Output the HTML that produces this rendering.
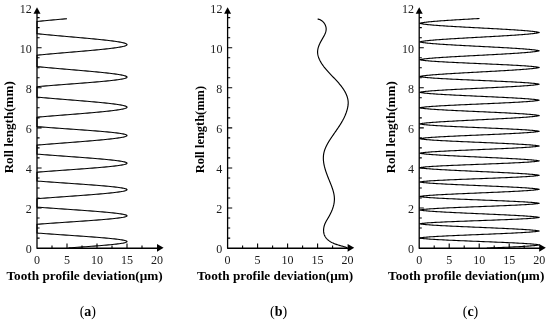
<!DOCTYPE html>
<html><head><meta charset="utf-8"><title>Figure</title>
<style>
html,body{margin:0;padding:0;background:#fff;}
svg{display:block}
.t{font-family:"Liberation Serif",serif;font-size:13.4px;fill:#1a1a1a}
.b{font-family:"Liberation Serif",serif;font-size:13.25px;font-weight:bold;fill:#000}
.c{font-family:"Liberation Serif",serif;font-size:14px;fill:#000}
.c tspan{font-weight:bold}
</style></head><body>
<svg width="550" height="324" viewBox="0 0 550 324">
<rect width="550" height="324" fill="#fff"/>
<path d="M37,13 V248.25 H158" fill="none" stroke="#000" stroke-width="1.3" stroke-linejoin="round"/>
<path d="M37,7.3 l3.5,6.4 h-7 z" fill="#000"/>
<path d="M163.6,247.85 l-6.6,-3.8 v7.6 z" fill="#000"/>
<path d="M37,238.08h2.6M37,228.06h2.6M37,218.04h2.6M37,208.02h4.6M37,198.00h2.6M37,187.98h2.6M37,177.96h2.6M37,167.94h4.6M37,157.92h2.6M37,147.90h2.6M37,137.88h2.6M37,127.86h4.6M37,117.84h2.6M37,107.82h2.6M37,97.80h2.6M37,87.78h4.6M37,77.76h2.6M37,67.74h2.6M37,57.72h2.6M37,47.70h4.6M37,37.68h2.6M37,27.66h2.6M37,17.64h2.6M52,248.1v-2.6M67,248.1v-4.6M82,248.1v-2.6M97,248.1v-4.6M112,248.1v-2.6M127,248.1v-4.6M142,248.1v-2.6" fill="none" stroke="#000" stroke-width="1.1"/>
<text class="t" transform="translate(31.8,253.2) scale(0.9,1)" text-anchor="end">0</text>
<text class="t" transform="translate(31.8,213.1) scale(0.9,1)" text-anchor="end">2</text>
<text class="t" transform="translate(31.8,173.0) scale(0.9,1)" text-anchor="end">4</text>
<text class="t" transform="translate(31.8,133.0) scale(0.9,1)" text-anchor="end">6</text>
<text class="t" transform="translate(31.8,92.9) scale(0.9,1)" text-anchor="end">8</text>
<text class="t" transform="translate(31.8,52.8) scale(0.9,1)" text-anchor="end">10</text>
<text class="t" transform="translate(31.8,12.7) scale(0.9,1)" text-anchor="end">12</text>
<text class="t" transform="translate(37.0,264.4) scale(0.9,1)" text-anchor="middle">0</text>
<text class="t" transform="translate(67.0,264.4) scale(0.9,1)" text-anchor="middle">5</text>
<text class="t" transform="translate(97.0,264.4) scale(0.9,1)" text-anchor="middle">10</text>
<text class="t" transform="translate(127.0,264.4) scale(0.9,1)" text-anchor="middle">15</text>
<text class="t" transform="translate(157.0,264.4) scale(0.9,1)" text-anchor="middle">20</text>
<text class="b" x="84.6" y="279.6" text-anchor="middle">Tooth profile deviation(μm)</text>
<text class="b" transform="translate(13.1,127.3) rotate(-90) scale(0.99,1)" text-anchor="middle">Roll length(mm)</text>
<path d="M227.6,13 V248.25 H348.6" fill="none" stroke="#000" stroke-width="1.3" stroke-linejoin="round"/>
<path d="M227.6,7.3 l3.5,6.4 h-7 z" fill="#000"/>
<path d="M354.2,247.85 l-6.6,-3.8 v7.6 z" fill="#000"/>
<path d="M227.6,238.08h2.6M227.6,228.06h2.6M227.6,218.04h2.6M227.6,208.02h4.6M227.6,198.00h2.6M227.6,187.98h2.6M227.6,177.96h2.6M227.6,167.94h4.6M227.6,157.92h2.6M227.6,147.90h2.6M227.6,137.88h2.6M227.6,127.86h4.6M227.6,117.84h2.6M227.6,107.82h2.6M227.6,97.80h2.6M227.6,87.78h4.6M227.6,77.76h2.6M227.6,67.74h2.6M227.6,57.72h2.6M227.6,47.70h4.6M227.6,37.68h2.6M227.6,27.66h2.6M227.6,17.64h2.6M242.6,248.1v-2.6M257.6,248.1v-4.6M272.6,248.1v-2.6M287.6,248.1v-4.6M302.6,248.1v-2.6M317.6,248.1v-4.6M332.6,248.1v-2.6" fill="none" stroke="#000" stroke-width="1.1"/>
<text class="t" transform="translate(222.4,253.2) scale(0.9,1)" text-anchor="end">0</text>
<text class="t" transform="translate(222.4,213.1) scale(0.9,1)" text-anchor="end">2</text>
<text class="t" transform="translate(222.4,173.0) scale(0.9,1)" text-anchor="end">4</text>
<text class="t" transform="translate(222.4,133.0) scale(0.9,1)" text-anchor="end">6</text>
<text class="t" transform="translate(222.4,92.9) scale(0.9,1)" text-anchor="end">8</text>
<text class="t" transform="translate(222.4,52.8) scale(0.9,1)" text-anchor="end">10</text>
<text class="t" transform="translate(222.4,12.7) scale(0.9,1)" text-anchor="end">12</text>
<text class="t" transform="translate(227.6,264.4) scale(0.9,1)" text-anchor="middle">0</text>
<text class="t" transform="translate(257.6,264.4) scale(0.9,1)" text-anchor="middle">5</text>
<text class="t" transform="translate(287.6,264.4) scale(0.9,1)" text-anchor="middle">10</text>
<text class="t" transform="translate(317.6,264.4) scale(0.9,1)" text-anchor="middle">15</text>
<text class="t" transform="translate(347.6,264.4) scale(0.9,1)" text-anchor="middle">20</text>
<text class="b" x="275.1" y="279.6" text-anchor="middle">Tooth profile deviation(μm)</text>
<text class="b" transform="translate(203.7,129.6) rotate(-90) scale(0.94,1)" text-anchor="middle">Roll length(mm)</text>
<path d="M419.2,13 V248.25 H540.2" fill="none" stroke="#000" stroke-width="1.3" stroke-linejoin="round"/>
<path d="M419.2,7.3 l3.5,6.4 h-7 z" fill="#000"/>
<path d="M545.8,247.85 l-6.6,-3.8 v7.6 z" fill="#000"/>
<path d="M419.2,238.08h2.6M419.2,228.06h2.6M419.2,218.04h2.6M419.2,208.02h4.6M419.2,198.00h2.6M419.2,187.98h2.6M419.2,177.96h2.6M419.2,167.94h4.6M419.2,157.92h2.6M419.2,147.90h2.6M419.2,137.88h2.6M419.2,127.86h4.6M419.2,117.84h2.6M419.2,107.82h2.6M419.2,97.80h2.6M419.2,87.78h4.6M419.2,77.76h2.6M419.2,67.74h2.6M419.2,57.72h2.6M419.2,47.70h4.6M419.2,37.68h2.6M419.2,27.66h2.6M419.2,17.64h2.6M434.2,248.1v-2.6M449.2,248.1v-4.6M464.2,248.1v-2.6M479.2,248.1v-4.6M494.2,248.1v-2.6M509.2,248.1v-4.6M524.2,248.1v-2.6" fill="none" stroke="#000" stroke-width="1.1"/>
<text class="t" transform="translate(414.0,253.2) scale(0.9,1)" text-anchor="end">0</text>
<text class="t" transform="translate(414.0,213.1) scale(0.9,1)" text-anchor="end">2</text>
<text class="t" transform="translate(414.0,173.0) scale(0.9,1)" text-anchor="end">4</text>
<text class="t" transform="translate(414.0,133.0) scale(0.9,1)" text-anchor="end">6</text>
<text class="t" transform="translate(414.0,92.9) scale(0.9,1)" text-anchor="end">8</text>
<text class="t" transform="translate(414.0,52.8) scale(0.9,1)" text-anchor="end">10</text>
<text class="t" transform="translate(414.0,12.7) scale(0.9,1)" text-anchor="end">12</text>
<text class="t" transform="translate(419.2,264.4) scale(0.9,1)" text-anchor="middle">0</text>
<text class="t" transform="translate(449.2,264.4) scale(0.9,1)" text-anchor="middle">5</text>
<text class="t" transform="translate(479.2,264.4) scale(0.9,1)" text-anchor="middle">10</text>
<text class="t" transform="translate(509.2,264.4) scale(0.9,1)" text-anchor="middle">15</text>
<text class="t" transform="translate(539.2,264.4) scale(0.9,1)" text-anchor="middle">20</text>
<text class="b" x="466.2" y="279.6" text-anchor="middle">Tooth profile deviation(μm)</text>
<text class="b" transform="translate(394.6,127.3) rotate(-90) scale(0.99,1)" text-anchor="middle">Roll length(mm)</text>
<path d="M67.00,18.70 L64.72,18.90 L62.45,19.10 L60.18,19.30 L57.93,19.50 L55.69,19.70 L53.47,19.90 L51.28,20.10 L49.12,20.30 L47.00,20.50 L44.91,20.70 L42.86,20.90 L40.86,21.10 L38.90,21.30 L37.00,21.50 L37.00,21.70 L37.00,21.90 L37.00,22.10 L37.00,22.30 L37.00,22.50 L37.00,22.70 L37.00,22.90 L37.00,23.10 L37.00,23.30 L37.00,23.50 L37.00,23.70 L37.00,23.90 L37.00,24.10 L37.00,24.30 L37.00,24.50 L37.00,24.70 L37.00,24.90 L37.00,25.10 L37.00,25.30 L37.00,25.50 L37.00,25.70 L37.00,25.90 L37.00,26.10 L37.00,26.30 L37.00,26.50 L37.00,26.70 L37.00,26.90 L37.00,27.10 L37.00,27.30 L37.00,27.50 L37.00,27.70 L37.00,27.90 L37.00,28.10 L37.00,28.30 L37.00,28.50 L37.00,28.70 L37.00,28.90 L37.00,29.10 L37.00,29.30 L37.00,29.50 L37.00,29.70 L37.00,29.90 L37.00,30.10 L37.00,30.30 L37.00,30.50 L37.00,30.70 L37.00,30.90 L37.00,31.10 L37.00,31.30 L37.00,31.50 L37.00,31.70 L37.00,31.90 L37.00,32.10 L37.00,32.30 L37.00,32.50 L37.00,32.70 L37.00,32.90 L37.00,33.10 L37.00,33.30 L37.00,33.50 L37.00,33.70 L38.91,33.90 L40.86,34.10 L42.86,34.30 L44.89,34.50 L46.97,34.70 L49.07,34.90 L51.21,35.10 L53.38,35.30 L55.57,35.50 L57.78,35.70 L60.01,35.90 L62.26,36.10 L64.52,36.30 L66.79,36.50 L69.07,36.70 L71.35,36.90 L73.62,37.10 L75.90,37.30 L78.16,37.50 L80.41,37.70 L82.65,37.90 L84.87,38.10 L87.06,38.30 L89.23,38.50 L91.37,38.70 L93.47,38.90 L95.54,39.10 L97.57,39.30 L99.55,39.50 L101.49,39.70 L103.38,39.90 L105.21,40.10 L106.99,40.30 L108.70,40.50 L110.36,40.70 L111.95,40.90 L113.47,41.10 L114.92,41.30 L116.29,41.50 L117.60,41.70 L118.82,41.90 L119.97,42.10 L121.03,42.30 L122.01,42.50 L122.91,42.70 L123.72,42.90 L124.44,43.10 L125.08,43.30 L125.62,43.50 L126.08,43.70 L126.44,43.90 L126.71,44.10 L126.90,44.30 L126.99,44.50 L126.99,44.70 L126.90,44.90 L126.71,45.10 L126.44,45.30 L126.07,45.50 L125.61,45.70 L125.06,45.90 L124.41,46.10 L123.68,46.30 L122.85,46.50 L121.94,46.70 L120.94,46.90 L119.85,47.10 L118.68,47.30 L117.42,47.50 L116.08,47.70 L114.66,47.90 L113.17,48.10 L111.60,48.30 L109.96,48.50 L108.25,48.70 L106.47,48.90 L104.63,49.10 L102.73,49.30 L100.77,49.50 L98.76,49.70 L96.70,49.90 L94.59,50.10 L92.44,50.30 L90.25,50.50 L88.02,50.70 L85.76,50.90 L83.48,51.10 L81.17,51.30 L78.84,51.50 L76.50,51.70 L74.14,51.90 L71.77,52.10 L69.41,52.30 L67.04,52.50 L64.67,52.70 L62.32,52.90 L59.98,53.10 L57.65,53.30 L55.34,53.50 L53.05,53.70 L50.80,53.90 L48.57,54.10 L46.37,54.30 L44.22,54.50 L42.10,54.70 L40.02,54.90 L38.00,55.10 L37.00,55.30 L37.00,55.50 L37.00,55.70 L37.00,55.90 L37.00,56.10 L37.00,56.30 L37.00,56.50 L37.00,56.70 L37.00,56.90 L37.00,57.10 L37.00,57.30 L37.00,57.50 L37.00,57.70 L37.00,57.90 L37.00,58.10 L37.00,58.30 L37.00,58.50 L37.00,58.70 L37.00,58.90 L37.00,59.10 L37.00,59.30 L37.00,59.50 L37.00,59.70 L37.00,59.90 L37.00,60.10 L37.00,60.30 L37.00,60.50 L37.00,60.70 L37.00,60.90 L37.00,61.10 L37.00,61.30 L37.00,61.50 L37.00,61.70 L37.00,61.90 L37.00,62.10 L37.00,62.30 L37.00,62.50 L37.00,62.70 L37.00,62.90 L37.00,63.10 L37.00,63.30 L37.00,63.50 L37.00,63.70 L37.00,63.90 L37.00,64.10 L37.00,64.30 L37.00,64.50 L37.00,64.70 L37.00,64.90 L37.00,65.10 L37.00,65.30 L37.00,65.50 L37.00,65.70 L37.00,65.90 L37.00,66.10 L37.00,66.30 L37.00,66.50 L38.00,66.70 L40.03,66.90 L42.11,67.10 L44.23,67.30 L46.38,67.50 L48.57,67.70 L50.79,67.90 L53.03,68.10 L55.30,68.30 L57.59,68.50 L59.90,68.70 L62.22,68.90 L64.55,69.10 L66.89,69.30 L69.24,69.50 L71.58,69.70 L73.92,69.90 L76.26,70.10 L78.58,70.30 L80.89,70.50 L83.18,70.70 L85.45,70.90 L87.69,71.10 L89.91,71.30 L92.09,71.50 L94.24,71.70 L96.35,71.90 L98.41,72.10 L100.43,72.30 L102.39,72.50 L104.31,72.70 L106.16,72.90 L107.96,73.10 L109.69,73.30 L111.36,73.50 L112.96,73.70 L114.48,73.90 L115.93,74.10 L117.30,74.30 L118.59,74.50 L119.80,74.70 L120.92,74.90 L121.95,75.10 L122.89,75.30 L123.74,75.50 L124.49,75.70 L125.15,75.90 L125.71,76.10 L126.17,76.30 L126.53,76.50 L126.79,76.70 L126.95,76.90 L127.00,77.10 L126.95,77.30 L126.79,77.50 L126.52,77.70 L126.15,77.90 L125.67,78.10 L125.07,78.30 L124.37,78.50 L123.56,78.70 L122.64,78.90 L121.61,79.10 L120.47,79.30 L119.23,79.50 L117.89,79.70 L116.44,79.90 L114.90,80.10 L113.25,80.30 L111.52,80.50 L109.69,80.70 L107.78,80.90 L105.78,81.10 L103.71,81.30 L101.56,81.50 L99.35,81.70 L97.06,81.90 L94.72,82.10 L92.32,82.30 L89.88,82.50 L87.39,82.70 L84.86,82.90 L82.30,83.10 L79.71,83.30 L77.10,83.50 L74.47,83.70 L71.84,83.90 L69.20,84.10 L66.56,84.30 L63.93,84.50 L61.32,84.70 L58.72,84.90 L56.14,85.10 L53.60,85.30 L51.09,85.50 L48.61,85.70 L46.19,85.90 L43.81,86.10 L41.48,86.30 L39.21,86.50 L37.00,86.70 L37.00,86.90 L37.00,87.10 L37.00,87.30 L37.00,87.50 L37.00,87.70 L37.00,87.90 L37.00,88.10 L37.00,88.30 L37.00,88.50 L37.00,88.70 L37.00,88.90 L37.00,89.10 L37.00,89.30 L37.00,89.50 L37.00,89.70 L37.00,89.90 L37.00,90.10 L37.00,90.30 L37.00,90.50 L37.00,90.70 L37.00,90.90 L37.00,91.10 L37.00,91.30 L37.00,91.50 L37.00,91.70 L37.00,91.90 L37.00,92.10 L37.00,92.30 L37.00,92.50 L37.00,92.70 L37.00,92.90 L37.00,93.10 L37.00,93.30 L37.00,93.50 L37.00,93.70 L37.00,93.90 L37.00,94.10 L37.00,94.30 L37.00,94.50 L37.00,94.70 L37.00,94.90 L37.00,95.10 L37.00,95.30 L37.00,95.50 L37.00,95.70 L37.00,95.90 L37.00,96.10 L37.00,96.30 L37.00,96.50 L37.00,96.70 L37.00,96.90 L37.00,97.10 L39.15,97.30 L41.35,97.50 L43.59,97.70 L45.87,97.90 L48.20,98.10 L50.55,98.30 L52.94,98.50 L55.35,98.70 L57.78,98.90 L60.23,99.10 L62.69,99.30 L65.17,99.50 L67.64,99.70 L70.12,99.90 L72.59,100.10 L75.06,100.30 L77.51,100.50 L79.95,100.70 L82.37,100.90 L84.76,101.10 L87.12,101.30 L89.45,101.50 L91.74,101.70 L93.99,101.90 L96.19,102.10 L98.34,102.30 L100.44,102.50 L102.49,102.70 L104.47,102.90 L106.39,103.10 L108.24,103.30 L110.02,103.50 L111.72,103.70 L113.35,103.90 L114.90,104.10 L116.36,104.30 L117.74,104.50 L119.03,104.70 L120.23,104.90 L121.34,105.10 L122.35,105.30 L123.27,105.50 L124.09,105.70 L124.81,105.90 L125.43,106.10 L125.95,106.30 L126.36,106.50 L126.67,106.70 L126.88,106.90 L126.99,107.10 L126.99,107.30 L126.88,107.50 L126.68,107.70 L126.36,107.90 L125.95,108.10 L125.44,108.30 L124.82,108.50 L124.11,108.70 L123.30,108.90 L122.39,109.10 L121.38,109.30 L120.29,109.50 L119.10,109.70 L117.82,109.90 L116.45,110.10 L115.00,110.30 L113.47,110.50 L111.86,110.70 L110.17,110.90 L108.40,111.10 L106.57,111.30 L104.66,111.50 L102.69,111.70 L100.65,111.90 L98.56,112.10 L96.41,112.30 L94.21,112.50 L91.95,112.70 L89.66,112.90 L87.32,113.10 L84.94,113.30 L82.53,113.50 L80.09,113.70 L77.62,113.90 L75.14,114.10 L72.63,114.30 L70.11,114.50 L67.58,114.70 L65.05,114.90 L62.51,115.10 L59.98,115.30 L57.46,115.50 L54.95,115.70 L52.46,115.90 L49.99,116.10 L47.55,116.30 L45.14,116.50 L42.76,116.70 L40.42,116.90 L38.13,117.10 L37.00,117.30 L37.00,117.50 L37.00,117.70 L37.00,117.90 L37.00,118.10 L37.00,118.30 L37.00,118.50 L37.00,118.70 L37.00,118.90 L37.00,119.10 L37.00,119.30 L37.00,119.50 L37.00,119.70 L37.00,119.90 L37.00,120.10 L37.00,120.30 L37.00,120.50 L37.00,120.70 L37.00,120.90 L37.00,121.10 L37.00,121.30 L37.00,121.50 L37.00,121.70 L37.00,121.90 L37.00,122.10 L37.00,122.30 L37.00,122.50 L37.00,122.70 L37.00,122.90 L37.00,123.10 L37.00,123.30 L37.00,123.50 L37.00,123.70 L37.00,123.90 L37.00,124.10 L37.00,124.30 L37.00,124.50 L37.00,124.70 L37.00,124.90 L37.00,125.10 L37.00,125.30 L37.00,125.50 L37.00,125.70 L37.00,125.90 L37.00,126.10 L37.00,126.30 L37.00,126.50 L38.20,126.70 L40.65,126.90 L43.16,127.10 L45.74,127.30 L48.37,127.50 L51.05,127.70 L53.77,127.90 L56.53,128.10 L59.32,128.30 L62.14,128.50 L64.97,128.70 L67.81,128.90 L70.65,129.10 L73.49,129.30 L76.32,129.50 L79.14,129.70 L81.93,129.90 L84.68,130.10 L87.40,130.30 L90.08,130.50 L92.70,130.70 L95.26,130.90 L97.76,131.10 L100.19,131.30 L102.54,131.50 L104.80,131.70 L106.98,131.90 L109.07,132.10 L111.06,132.30 L112.94,132.50 L114.72,132.70 L116.39,132.90 L117.95,133.10 L119.38,133.30 L120.70,133.50 L121.90,133.70 L122.97,133.90 L123.92,134.10 L124.74,134.30 L125.43,134.50 L126.00,134.70 L126.44,134.90 L126.75,135.10 L126.94,135.30 L127.00,135.50 L126.94,135.70 L126.76,135.90 L126.45,136.10 L126.03,136.30 L125.50,136.50 L124.85,136.70 L124.09,136.90 L123.22,137.10 L122.25,137.30 L121.17,137.50 L119.99,137.70 L118.72,137.90 L117.35,138.10 L115.89,138.30 L114.33,138.50 L112.70,138.70 L110.98,138.90 L109.18,139.10 L107.31,139.30 L105.36,139.50 L103.35,139.70 L101.27,139.90 L99.12,140.10 L96.92,140.30 L94.67,140.50 L92.36,140.70 L90.01,140.90 L87.61,141.10 L85.17,141.30 L82.70,141.50 L80.20,141.70 L77.67,141.90 L75.11,142.10 L72.54,142.30 L69.95,142.50 L67.35,142.70 L64.75,142.90 L62.14,143.10 L59.54,143.30 L56.94,143.50 L54.35,143.70 L51.79,143.90 L49.24,144.10 L46.72,144.30 L44.23,144.50 L41.78,144.70 L39.37,144.90 L37.00,145.10 L37.00,145.30 L37.00,145.50 L37.00,145.70 L37.00,145.90 L37.00,146.10 L37.00,146.30 L37.00,146.50 L37.00,146.70 L37.00,146.90 L37.00,147.10 L37.00,147.30 L37.00,147.50 L37.00,147.70 L37.00,147.90 L37.00,148.10 L37.00,148.30 L37.00,148.50 L37.00,148.70 L37.00,148.90 L37.00,149.10 L37.00,149.30 L37.00,149.50 L37.00,149.70 L37.00,149.90 L37.00,150.10 L37.00,150.30 L37.00,150.50 L37.00,150.70 L37.00,150.90 L37.00,151.10 L37.00,151.30 L37.00,151.50 L37.00,151.70 L37.00,151.90 L37.00,152.10 L37.00,152.30 L37.00,152.50 L37.00,152.70 L37.00,152.90 L37.00,153.10 L37.00,153.30 L37.00,153.50 L37.00,153.70 L37.00,153.90 L37.00,154.10 L39.44,154.30 L41.93,154.50 L44.47,154.70 L47.06,154.90 L49.70,155.10 L52.36,155.30 L55.06,155.50 L57.78,155.70 L60.52,155.90 L63.27,156.10 L66.03,156.30 L68.79,156.50 L71.54,156.70 L74.29,156.90 L77.02,157.10 L79.72,157.30 L82.40,157.50 L85.05,157.70 L87.66,157.90 L90.22,158.10 L92.73,158.30 L95.19,158.50 L97.59,158.70 L99.93,158.90 L102.20,159.10 L104.39,159.30 L106.50,159.50 L108.54,159.70 L110.48,159.90 L112.33,160.10 L114.09,160.30 L115.75,160.50 L117.31,160.70 L118.76,160.90 L120.10,161.10 L121.33,161.30 L122.44,161.50 L123.44,161.70 L124.32,161.90 L125.07,162.10 L125.71,162.30 L126.22,162.50 L126.60,162.70 L126.86,162.90 L126.98,163.10 L126.98,163.30 L126.86,163.50 L126.60,163.70 L126.21,163.90 L125.70,164.10 L125.07,164.30 L124.30,164.50 L123.42,164.70 L122.41,164.90 L121.29,165.10 L120.05,165.30 L118.69,165.50 L117.23,165.70 L115.65,165.90 L113.97,166.10 L112.19,166.30 L110.31,166.50 L108.34,166.70 L106.28,166.90 L104.13,167.10 L101.91,167.30 L99.60,167.50 L97.23,167.70 L94.79,167.90 L92.29,168.10 L89.73,168.30 L87.12,168.50 L84.47,168.70 L81.77,168.90 L79.05,169.10 L76.30,169.30 L73.52,169.50 L70.73,169.70 L67.93,169.90 L65.13,170.10 L62.33,170.30 L59.54,170.50 L56.76,170.70 L54.00,170.90 L51.27,171.10 L48.57,171.30 L45.92,171.50 L43.30,171.70 L40.74,171.90 L38.23,172.10 L37.00,172.30 L37.00,172.50 L37.00,172.70 L37.00,172.90 L37.00,173.10 L37.00,173.30 L37.00,173.50 L37.00,173.70 L37.00,173.90 L37.00,174.10 L37.00,174.30 L37.00,174.50 L37.00,174.70 L37.00,174.90 L37.00,175.10 L37.00,175.30 L37.00,175.50 L37.00,175.70 L37.00,175.90 L37.00,176.10 L37.00,176.30 L37.00,176.50 L37.00,176.70 L37.00,176.90 L37.00,177.10 L37.00,177.30 L37.00,177.50 L37.00,177.70 L37.00,177.90 L37.00,178.10 L37.00,178.30 L37.00,178.50 L37.00,178.70 L37.00,178.90 L37.00,179.10 L37.00,179.30 L37.00,179.50 L37.00,179.70 L37.00,179.90 L37.00,180.10 L37.00,180.30 L37.00,180.50 L37.00,180.70 L37.00,180.90 L38.25,181.10 L40.81,181.30 L43.43,181.50 L46.11,181.70 L48.83,181.90 L51.61,182.10 L54.42,182.30 L57.26,182.50 L60.13,182.70 L63.01,182.90 L65.91,183.10 L68.81,183.30 L71.71,183.50 L74.60,183.70 L77.47,183.90 L80.32,184.10 L83.13,184.30 L85.91,184.50 L88.65,184.70 L91.33,184.90 L93.96,185.10 L96.52,185.30 L99.01,185.50 L101.43,185.70 L103.77,185.90 L106.02,186.10 L108.17,186.30 L110.23,186.50 L112.19,186.70 L114.04,186.90 L115.78,187.10 L117.41,187.30 L118.91,187.50 L120.30,187.70 L121.56,187.90 L122.69,188.10 L123.70,188.30 L124.57,188.50 L125.31,188.70 L125.92,188.90 L126.39,189.10 L126.73,189.30 L126.93,189.50 L127.00,189.70 L126.93,189.90 L126.73,190.10 L126.40,190.30 L125.94,190.50 L125.35,190.70 L124.64,190.90 L123.80,191.10 L122.84,191.30 L121.76,191.50 L120.56,191.70 L119.26,191.90 L117.84,192.10 L116.32,192.30 L114.69,192.50 L112.97,192.70 L111.15,192.90 L109.23,193.10 L107.23,193.30 L105.15,193.50 L102.98,193.70 L100.74,193.90 L98.42,194.10 L96.04,194.30 L93.60,194.50 L91.10,194.70 L88.55,194.90 L85.95,195.10 L83.30,195.30 L80.62,195.50 L77.90,195.70 L75.16,195.90 L72.39,196.10 L69.61,196.30 L66.82,196.50 L64.02,196.70 L61.22,196.90 L58.43,197.10 L55.64,197.30 L52.88,197.50 L50.14,197.70 L47.43,197.90 L44.75,198.10 L42.12,198.30 L39.53,198.50 L37.00,198.70 L37.00,198.90 L37.00,199.10 L37.00,199.30 L37.00,199.50 L37.00,199.70 L37.00,199.90 L37.00,200.10 L37.00,200.30 L37.00,200.50 L37.00,200.70 L37.00,200.90 L37.00,201.10 L37.00,201.30 L37.00,201.50 L37.00,201.70 L37.00,201.90 L37.00,202.10 L37.00,202.30 L37.00,202.50 L37.00,202.70 L37.00,202.90 L37.00,203.10 L37.00,203.30 L37.00,203.50 L37.00,203.70 L37.00,203.90 L37.00,204.10 L37.00,204.30 L37.00,204.50 L37.00,204.70 L37.00,204.90 L37.00,205.10 L37.00,205.30 L37.00,205.50 L37.00,205.70 L37.00,205.90 L37.00,206.10 L37.00,206.30 L37.00,206.50 L37.00,206.70 L37.00,206.90 L37.00,207.10 L39.58,207.30 L42.22,207.50 L44.91,207.70 L47.65,207.90 L50.43,208.10 L53.24,208.30 L56.09,208.50 L58.95,208.70 L61.83,208.90 L64.72,209.10 L67.60,209.30 L70.49,209.50 L73.36,209.70 L76.22,209.90 L79.05,210.10 L81.85,210.30 L84.62,210.50 L87.34,210.70 L90.02,210.90 L92.64,211.10 L95.20,211.30 L97.70,211.50 L100.13,211.70 L102.48,211.90 L104.75,212.10 L106.94,212.30 L109.03,212.50 L111.03,212.70 L112.93,212.90 L114.72,213.10 L116.41,213.30 L117.98,213.50 L119.44,213.70 L120.78,213.90 L122.00,214.10 L123.09,214.30 L124.05,214.50 L124.88,214.70 L125.58,214.90 L126.14,215.10 L126.56,215.30 L126.84,215.50 L126.98,215.70 L126.98,215.90 L126.84,216.10 L126.55,216.30 L126.13,216.50 L125.55,216.70 L124.84,216.90 L123.99,217.10 L123.00,217.30 L121.87,217.50 L120.61,217.70 L119.21,217.90 L117.69,218.10 L116.04,218.30 L114.28,218.50 L112.39,218.70 L110.39,218.90 L108.29,219.10 L106.08,219.30 L103.78,219.50 L101.39,219.70 L98.91,219.90 L96.35,220.10 L93.73,220.30 L91.03,220.50 L88.28,220.70 L85.47,220.90 L82.63,221.10 L79.74,221.30 L76.83,221.50 L73.89,221.70 L70.93,221.90 L67.97,222.10 L65.01,222.30 L62.06,222.50 L59.12,222.70 L56.21,222.90 L53.32,223.10 L50.47,223.30 L47.66,223.50 L44.91,223.70 L42.20,223.90 L39.57,224.10 L37.00,224.30 L37.00,224.50 L37.00,224.70 L37.00,224.90 L37.00,225.10 L37.00,225.30 L37.00,225.50 L37.00,225.70 L37.00,225.90 L37.00,226.10 L37.00,226.30 L37.00,226.50 L37.00,226.70 L37.00,226.90 L37.00,227.10 L37.00,227.30 L37.00,227.50 L37.00,227.70 L37.00,227.90 L37.00,228.10 L37.00,228.30 L37.00,228.50 L37.00,228.70 L37.00,228.90 L37.00,229.10 L37.00,229.30 L37.00,229.50 L37.00,229.70 L37.00,229.90 L37.00,230.10 L37.00,230.30 L37.00,230.50 L37.00,230.70 L37.00,230.90 L37.00,231.10 L37.00,231.30 L37.00,231.50 L37.00,231.70 L37.00,231.90 L37.00,232.10 L37.00,232.30 L37.00,232.50 L37.00,232.70 L37.00,232.90 L38.27,233.10 L40.85,233.30 L43.50,233.50 L46.20,233.70 L48.95,233.90 L51.75,234.10 L54.58,234.30 L57.44,234.50 L60.33,234.70 L63.23,234.90 L66.15,235.10 L69.06,235.30 L71.97,235.50 L74.87,235.70 L77.75,235.90 L80.61,236.10 L83.44,236.30 L86.23,236.50 L88.97,236.70 L91.66,236.90 L94.30,237.10 L96.87,237.30 L99.37,237.50 L101.79,237.70 L104.13,237.90 L106.38,238.10 L108.54,238.30 L110.60,238.50 L112.56,238.70 L114.41,238.90 L116.15,239.10 L117.77,239.30 L119.27,239.50 L120.65,239.70 L121.90,239.90 L123.01,240.10 L124.00,240.30 L124.84,240.50 L125.55,240.70 L126.12,240.90 L126.55,241.10 L126.84,241.30 L126.98,241.50 L126.98,241.70 L126.84,241.90 L126.55,242.10 L126.12,242.30 L125.55,242.50 L124.84,242.70 L123.99,242.90 L123.00,243.10 L121.88,243.30 L120.63,243.50 L119.24,243.70 L117.73,243.90 L116.10,244.10 L114.35,244.30 L112.49,244.50 L110.51,244.70 L108.43,244.90 L106.25,245.10 L103.98,245.30 L101.61,245.50 L99.16,245.70 L96.64,245.90 L94.04,246.10 L91.37,246.30 L88.65,246.50 L85.87,246.70 L83.05,246.90 L80.18,247.10 L77.29,247.30 L74.37,247.50 L71.43,247.70 L68.48,247.90" fill="none" stroke="#000" stroke-width="1.15" stroke-linejoin="round"/>
<path d="M317.57,18.97 L318.29,19.13 L318.98,19.33 L319.66,19.58 L320.30,19.87 L320.92,20.21 L321.51,20.58 L322.07,20.99 L322.60,21.43 L323.10,21.90 L323.56,22.40 L323.99,22.93 L324.39,23.48 L324.75,24.04 L325.07,24.63 L325.35,25.23 L325.59,25.84 L325.79,26.46 L325.95,27.09 L326.07,27.72 L326.14,28.35 L326.17,28.98 L326.15,29.61 L326.08,30.23 L325.98,30.86 L325.85,31.48 L325.67,32.10 L325.47,32.72 L325.24,33.33 L324.98,33.95 L324.70,34.57 L324.40,35.18 L324.09,35.79 L323.76,36.41 L323.41,37.02 L323.06,37.64 L322.71,38.26 L322.35,38.88 L321.99,39.49 L321.63,40.12 L321.28,40.74 L320.93,41.36 L320.60,41.99 L320.27,42.62 L319.96,43.25 L319.66,43.88 L319.38,44.52 L319.11,45.15 L318.86,45.79 L318.62,46.43 L318.41,47.07 L318.22,47.71 L318.05,48.35 L317.91,48.99 L317.79,49.63 L317.70,50.28 L317.63,50.92 L317.60,51.56 L317.59,52.21 L317.62,52.85 L317.67,53.49 L317.76,54.14 L317.87,54.78 L318.01,55.42 L318.17,56.05 L318.35,56.69 L318.56,57.32 L318.79,57.95 L319.04,58.58 L319.30,59.20 L319.59,59.82 L319.89,60.44 L320.21,61.05 L320.54,61.65 L320.88,62.25 L321.24,62.84 L321.61,63.43 L321.98,64.01 L322.37,64.59 L322.76,65.16 L323.16,65.72 L323.56,66.27 L323.97,66.82 L324.39,67.35 L324.81,67.89 L325.23,68.41 L325.66,68.93 L326.09,69.45 L326.52,69.96 L326.96,70.46 L327.40,70.96 L327.85,71.46 L328.29,71.95 L328.74,72.44 L329.19,72.93 L329.65,73.41 L330.10,73.90 L330.56,74.38 L331.02,74.86 L331.48,75.34 L331.95,75.82 L332.41,76.30 L332.87,76.78 L333.34,77.26 L333.80,77.74 L334.26,78.23 L334.73,78.71 L335.19,79.20 L335.65,79.69 L336.12,80.19 L336.58,80.68 L337.04,81.19 L337.50,81.69 L337.95,82.20 L338.41,82.72 L338.86,83.23 L339.30,83.76 L339.75,84.28 L340.18,84.82 L340.62,85.35 L341.04,85.89 L341.46,86.44 L341.87,86.99 L342.28,87.54 L342.68,88.10 L343.06,88.66 L343.44,89.23 L343.81,89.80 L344.17,90.38 L344.52,90.96 L344.85,91.55 L345.18,92.14 L345.49,92.73 L345.78,93.33 L346.07,93.94 L346.34,94.55 L346.59,95.16 L346.83,95.78 L347.05,96.41 L347.26,97.03 L347.45,97.67 L347.62,98.31 L347.77,98.95 L347.90,99.60 L348.00,100.25 L348.09,100.91 L348.15,101.57 L348.19,102.23 L348.20,102.90 L348.19,103.58 L348.15,104.26 L348.09,104.94 L348.01,105.62 L347.91,106.30 L347.79,106.98 L347.65,107.66 L347.50,108.34 L347.33,109.01 L347.15,109.68 L346.96,110.34 L346.76,111.00 L346.55,111.65 L346.33,112.29 L346.11,112.93 L345.87,113.56 L345.63,114.19 L345.38,114.81 L345.13,115.42 L344.86,116.03 L344.59,116.64 L344.31,117.24 L344.03,117.83 L343.73,118.42 L343.44,119.01 L343.13,119.59 L342.82,120.17 L342.51,120.75 L342.18,121.32 L341.86,121.89 L341.53,122.46 L341.19,123.02 L340.85,123.59 L340.50,124.15 L340.15,124.71 L339.80,125.27 L339.44,125.82 L339.08,126.38 L338.71,126.93 L338.34,127.49 L337.97,128.04 L337.59,128.59 L337.21,129.15 L336.83,129.70 L336.45,130.26 L336.07,130.81 L335.68,131.37 L335.29,131.92 L334.90,132.48 L334.51,133.04 L334.12,133.61 L333.72,134.17 L333.33,134.74 L332.93,135.31 L332.54,135.88 L332.14,136.46 L331.75,137.03 L331.35,137.62 L330.96,138.20 L330.57,138.79 L330.19,139.38 L329.81,139.97 L329.43,140.56 L329.06,141.16 L328.69,141.76 L328.33,142.37 L327.98,142.97 L327.63,143.58 L327.30,144.19 L326.97,144.80 L326.66,145.41 L326.35,146.03 L326.05,146.65 L325.77,147.27 L325.50,147.89 L325.25,148.51 L325.00,149.14 L324.78,149.77 L324.56,150.40 L324.37,151.03 L324.19,151.66 L324.02,152.29 L323.88,152.93 L323.75,153.56 L323.65,154.20 L323.56,154.84 L323.48,155.48 L323.43,156.12 L323.39,156.76 L323.36,157.41 L323.35,158.05 L323.36,158.70 L323.38,159.34 L323.41,159.99 L323.46,160.64 L323.52,161.29 L323.60,161.93 L323.68,162.58 L323.78,163.23 L323.89,163.88 L324.02,164.54 L324.15,165.19 L324.29,165.84 L324.44,166.49 L324.61,167.14 L324.78,167.80 L324.96,168.45 L325.14,169.10 L325.34,169.75 L325.54,170.41 L325.75,171.06 L325.97,171.71 L326.19,172.36 L326.42,173.01 L326.65,173.67 L326.89,174.32 L327.13,174.97 L327.38,175.62 L327.63,176.27 L327.88,176.92 L328.14,177.56 L328.39,178.21 L328.65,178.86 L328.91,179.51 L329.18,180.15 L329.44,180.80 L329.70,181.44 L329.96,182.08 L330.22,182.72 L330.48,183.36 L330.73,184.01 L330.99,184.65 L331.24,185.29 L331.48,185.92 L331.72,186.56 L331.95,187.20 L332.18,187.84 L332.40,188.48 L332.61,189.12 L332.81,189.76 L333.01,190.40 L333.19,191.04 L333.36,191.68 L333.53,192.32 L333.68,192.96 L333.82,193.61 L333.94,194.25 L334.06,194.89 L334.15,195.54 L334.24,196.18 L334.31,196.83 L334.36,197.48 L334.39,198.13 L334.41,198.78 L334.41,199.43 L334.39,200.09 L334.35,200.75 L334.29,201.40 L334.22,202.06 L334.13,202.72 L334.02,203.38 L333.90,204.04 L333.76,204.70 L333.60,205.35 L333.43,206.01 L333.25,206.67 L333.05,207.32 L332.84,207.97 L332.62,208.62 L332.38,209.27 L332.14,209.92 L331.88,210.56 L331.61,211.20 L331.34,211.84 L331.05,212.47 L330.75,213.10 L330.45,213.72 L330.14,214.34 L329.82,214.95 L329.49,215.56 L329.16,216.16 L328.82,216.76 L328.48,217.35 L328.13,217.94 L327.78,218.52 L327.43,219.10 L327.09,219.68 L326.75,220.26 L326.42,220.84 L326.09,221.43 L325.78,222.02 L325.48,222.62 L325.20,223.22 L324.93,223.83 L324.68,224.46 L324.46,225.09 L324.26,225.74 L324.08,226.40 L323.93,227.06 L323.80,227.74 L323.70,228.42 L323.63,229.10 L323.59,229.78 L323.57,230.46 L323.59,231.14 L323.64,231.81 L323.72,232.47 L323.84,233.13 L323.99,233.77 L324.17,234.40 L324.39,235.01 L324.65,235.61 L324.95,236.19 L325.27,236.75 L325.63,237.30 L326.03,237.82 L326.45,238.33 L326.89,238.82 L327.37,239.30 L327.86,239.75 L328.38,240.19 L328.92,240.62 L329.47,241.02 L330.05,241.41 L330.63,241.78 L331.23,242.14 L331.85,242.48 L332.47,242.80 L333.10,243.10 L333.73,243.39 L334.37,243.66 L335.01,243.92 L335.65,244.16 L336.30,244.39 L336.94,244.61 L337.59,244.82 L338.24,245.02 L338.89,245.21 L339.54,245.40 L340.19,245.58 L340.83,245.76 L341.48,245.95 L342.12,246.13 L342.77,246.31 L343.41,246.50 L344.04,246.69 L344.68,246.89 L345.31,247.10 L345.94,247.32 L346.56,247.55 L347.18,247.80" fill="none" stroke="#000" stroke-width="1.15" stroke-linejoin="round"/>
<path d="M479.50,18.50 L477.73,18.60 L475.96,18.70 L474.19,18.80 L472.43,18.90 L470.67,19.00 L468.92,19.10 L467.17,19.20 L465.44,19.30 L463.72,19.40 L462.01,19.50 L460.32,19.60 L458.64,19.70 L456.98,19.80 L455.34,19.90 L453.71,20.00 L452.12,20.10 L450.54,20.20 L448.99,20.30 L447.46,20.40 L445.97,20.50 L444.50,20.60 L443.06,20.70 L441.66,20.80 L440.28,20.90 L438.94,21.00 L437.64,21.10 L436.37,21.20 L435.14,21.30 L433.95,21.40 L432.79,21.50 L431.68,21.60 L430.61,21.70 L429.58,21.80 L428.60,21.90 L427.66,22.00 L426.77,22.10 L425.92,22.20 L425.12,22.30 L424.36,22.40 L423.66,22.50 L423.00,22.60 L422.39,22.70 L421.83,22.80 L421.33,22.90 L420.87,23.00 L420.46,23.10 L420.10,23.20 L419.80,23.30 L420.10,23.40 L420.46,23.50 L420.87,23.60 L421.33,23.70 L421.85,23.80 L422.41,23.90 L423.03,24.00 L423.70,24.10 L424.43,24.20 L425.20,24.30 L426.03,24.40 L426.90,24.50 L427.82,24.60 L428.80,24.70 L429.82,24.80 L430.89,24.90 L432.01,25.00 L433.17,25.10 L434.38,25.20 L435.63,25.30 L436.93,25.40 L438.27,25.50 L439.64,25.60 L441.06,25.70 L442.52,25.80 L444.01,25.90 L445.54,26.00 L447.11,26.10 L448.70,26.20 L450.33,26.30 L451.99,26.40 L453.67,26.50 L455.38,26.60 L457.12,26.70 L458.88,26.80 L460.66,26.90 L462.46,27.00 L464.27,27.10 L466.11,27.20 L467.95,27.30 L469.81,27.40 L471.68,27.50 L473.56,27.60 L475.45,27.70 L477.33,27.80 L479.23,27.90 L481.12,28.00 L483.01,28.10 L484.89,28.20 L486.78,28.30 L488.65,28.40 L490.51,28.50 L492.37,28.60 L494.21,28.70 L496.04,28.80 L497.85,28.90 L499.64,29.00 L501.41,29.10 L503.15,29.20 L504.88,29.30 L506.58,29.40 L508.25,29.50 L509.89,29.60 L511.50,29.70 L513.08,29.80 L514.63,29.90 L516.14,30.00 L517.61,30.10 L519.05,30.20 L520.44,30.30 L521.80,30.40 L523.11,30.50 L524.38,30.60 L525.61,30.70 L526.79,30.80 L527.92,30.90 L529.01,31.00 L530.05,31.10 L531.04,31.20 L531.98,31.30 L532.87,31.40 L533.71,31.50 L534.49,31.60 L535.23,31.70 L535.91,31.80 L536.54,31.90 L537.12,32.00 L537.64,32.10 L538.11,32.20 L538.53,32.30 L538.89,32.40 L539.20,32.50 L538.89,32.60 L538.53,32.70 L538.12,32.80 L537.65,32.90 L537.13,33.00 L536.56,33.10 L535.94,33.20 L535.27,33.30 L534.55,33.40 L533.78,33.50 L532.96,33.60 L532.10,33.70 L531.18,33.80 L530.22,33.90 L529.22,34.00 L528.17,34.10 L527.07,34.20 L525.94,34.30 L524.76,34.40 L523.54,34.50 L522.28,34.60 L520.98,34.70 L519.65,34.80 L518.27,34.90 L516.87,35.00 L515.43,35.10 L513.95,35.20 L512.45,35.30 L510.92,35.40 L509.35,35.50 L507.76,35.60 L506.15,35.70 L504.51,35.80 L502.85,35.90 L501.16,36.00 L499.46,36.10 L497.74,36.20 L496.00,36.30 L494.25,36.40 L492.48,36.50 L490.70,36.60 L488.91,36.70 L487.11,36.80 L485.31,36.90 L483.49,37.00 L481.68,37.10 L479.86,37.20 L478.04,37.30 L476.23,37.40 L474.41,37.50 L472.60,37.60 L470.80,37.70 L469.00,37.80 L467.21,37.90 L465.44,38.00 L463.67,38.10 L461.92,38.20 L460.19,38.30 L458.47,38.40 L456.77,38.50 L455.09,38.60 L453.43,38.70 L451.80,38.80 L450.19,38.90 L448.61,39.00 L447.06,39.10 L445.53,39.20 L444.04,39.30 L442.58,39.40 L441.15,39.50 L439.75,39.60 L438.39,39.70 L437.07,39.80 L435.79,39.90 L434.55,40.00 L433.35,40.10 L432.19,40.20 L431.07,40.30 L430.00,40.40 L428.97,40.50 L427.99,40.60 L427.06,40.70 L426.17,40.80 L425.34,40.90 L424.55,41.00 L423.81,41.10 L423.13,41.20 L422.49,41.30 L421.91,41.40 L421.38,41.50 L420.91,41.60 L420.48,41.70 L420.11,41.80 L419.80,41.90 L420.11,42.00 L420.49,42.10 L420.91,42.20 L421.39,42.30 L421.93,42.40 L422.52,42.50 L423.17,42.60 L423.87,42.70 L424.63,42.80 L425.44,42.90 L426.30,43.00 L427.22,43.10 L428.19,43.20 L429.22,43.30 L430.29,43.40 L431.41,43.50 L432.59,43.60 L433.81,43.70 L435.08,43.80 L436.39,43.90 L437.75,44.00 L439.16,44.10 L440.60,44.20 L442.09,44.30 L443.62,44.40 L445.18,44.50 L446.79,44.60 L448.42,44.70 L450.10,44.80 L451.80,44.90 L453.53,45.00 L455.29,45.10 L457.08,45.20 L458.89,45.30 L460.73,45.40 L462.58,45.50 L464.46,45.60 L466.35,45.70 L468.26,45.80 L470.18,45.90 L472.11,46.00 L474.05,46.10 L475.99,46.20 L477.94,46.30 L479.89,46.40 L481.84,46.50 L483.79,46.60 L485.74,46.70 L487.68,46.80 L489.61,46.90 L491.53,47.00 L493.44,47.10 L495.33,47.20 L497.21,47.30 L499.07,47.40 L500.91,47.50 L502.72,47.60 L504.51,47.70 L506.27,47.80 L508.01,47.90 L509.71,48.00 L511.38,48.10 L513.02,48.20 L514.62,48.30 L516.19,48.40 L517.71,48.50 L519.20,48.60 L520.64,48.70 L522.04,48.80 L523.39,48.90 L524.70,49.00 L525.96,49.10 L527.17,49.20 L528.33,49.30 L529.44,49.40 L530.50,49.50 L531.51,49.60 L532.46,49.70 L533.35,49.80 L534.20,49.90 L534.98,50.00 L535.71,50.10 L536.38,50.20 L537.00,50.30 L537.55,50.40 L538.05,50.50 L538.49,50.60 L538.88,50.70 L539.20,50.80 L538.88,50.90 L538.49,51.00 L538.06,51.10 L537.56,51.20 L537.01,51.30 L536.40,51.40 L535.74,51.50 L535.03,51.60 L534.26,51.70 L533.44,51.80 L532.56,51.90 L531.63,52.00 L530.66,52.10 L529.63,52.20 L528.56,52.30 L527.43,52.40 L526.26,52.50 L525.05,52.60 L523.79,52.70 L522.49,52.80 L521.14,52.90 L519.76,53.00 L518.33,53.10 L516.87,53.20 L515.37,53.30 L513.83,53.40 L512.26,53.50 L510.66,53.60 L509.03,53.70 L507.36,53.80 L505.67,53.90 L503.96,54.00 L502.22,54.10 L500.45,54.20 L498.67,54.30 L496.86,54.40 L495.04,54.50 L493.19,54.60 L491.34,54.70 L489.47,54.80 L487.59,54.90 L485.70,55.00 L483.81,55.10 L481.91,55.20 L480.00,55.30 L478.09,55.40 L476.19,55.50 L474.28,55.60 L472.38,55.70 L470.48,55.80 L468.59,55.90 L466.71,56.00 L464.84,56.10 L462.98,56.20 L461.14,56.30 L459.32,56.40 L457.51,56.50 L455.72,56.60 L453.96,56.70 L452.22,56.80 L450.51,56.90 L448.82,57.00 L447.17,57.10 L445.54,57.20 L443.95,57.30 L442.39,57.40 L440.87,57.50 L439.39,57.60 L437.95,57.70 L436.55,57.80 L435.20,57.90 L433.88,58.00 L432.62,58.10 L431.40,58.20 L430.24,58.30 L429.12,58.40 L428.05,58.50 L427.04,58.60 L426.09,58.70 L425.19,58.80 L424.35,58.90 L423.56,59.00 L422.84,59.10 L422.18,59.20 L421.58,59.30 L421.04,59.40 L420.56,59.50 L420.15,59.60 L419.80,59.70 L420.15,59.80 L420.57,59.90 L421.05,60.00 L421.61,60.10 L422.24,60.20 L422.94,60.30 L423.71,60.40 L424.56,60.50 L425.47,60.60 L426.46,60.70 L427.52,60.80 L428.64,60.90 L429.84,61.00 L431.11,61.10 L432.44,61.20 L433.85,61.30 L435.31,61.40 L436.85,61.50 L438.44,61.60 L440.09,61.70 L441.81,61.80 L443.58,61.90 L445.40,62.00 L447.28,62.10 L449.20,62.20 L451.17,62.30 L453.19,62.40 L455.24,62.50 L457.33,62.60 L459.46,62.70 L461.62,62.80 L463.81,62.90 L466.02,63.00 L468.25,63.10 L470.50,63.20 L472.77,63.30 L475.05,63.40 L477.33,63.50 L479.61,63.60 L481.90,63.70 L484.18,63.80 L486.46,63.90 L488.72,64.00 L490.97,64.10 L493.20,64.20 L495.41,64.30 L497.59,64.40 L499.74,64.50 L501.87,64.60 L503.95,64.70 L506.00,64.80 L508.01,64.90 L509.97,65.00 L511.89,65.10 L513.76,65.20 L515.57,65.30 L517.33,65.40 L519.04,65.50 L520.68,65.60 L522.27,65.70 L523.79,65.80 L525.25,65.90 L526.64,66.00 L527.97,66.10 L529.23,66.20 L530.42,66.30 L531.54,66.40 L532.59,66.50 L533.57,66.60 L534.48,66.70 L535.32,66.80 L536.08,66.90 L536.78,67.00 L537.40,67.10 L537.95,67.20 L538.44,67.30 L538.85,67.40 L539.20,67.50 L538.85,67.60 L538.45,67.70 L537.98,67.80 L537.45,67.90 L536.86,68.00 L536.21,68.10 L535.50,68.20 L534.73,68.30 L533.92,68.40 L533.04,68.50 L532.12,68.60 L531.14,68.70 L530.11,68.80 L529.04,68.90 L527.92,69.00 L526.75,69.10 L525.53,69.20 L524.28,69.30 L522.98,69.40 L521.65,69.50 L520.27,69.60 L518.86,69.70 L517.41,69.80 L515.93,69.90 L514.41,70.00 L512.87,70.10 L511.29,70.20 L509.69,70.30 L508.06,70.40 L506.40,70.50 L504.73,70.60 L503.03,70.70 L501.31,70.80 L499.57,70.90 L497.81,71.00 L496.04,71.10 L494.26,71.20 L492.46,71.30 L490.65,71.40 L488.83,71.50 L487.00,71.60 L485.17,71.70 L483.33,71.80 L481.49,71.90 L479.65,72.00 L477.80,72.10 L475.96,72.20 L474.12,72.30 L472.28,72.40 L470.46,72.50 L468.63,72.60 L466.82,72.70 L465.02,72.80 L463.23,72.90 L461.45,73.00 L459.69,73.10 L457.95,73.20 L456.22,73.30 L454.51,73.40 L452.83,73.50 L451.17,73.60 L449.53,73.70 L447.92,73.80 L446.33,73.90 L444.78,74.00 L443.25,74.10 L441.76,74.20 L440.31,74.30 L438.88,74.40 L437.50,74.50 L436.15,74.60 L434.85,74.70 L433.58,74.80 L432.36,74.90 L431.18,75.00 L430.05,75.10 L428.96,75.20 L427.93,75.30 L426.94,75.40 L426.01,75.50 L425.13,75.60 L424.30,75.70 L423.53,75.80 L422.82,75.90 L422.16,76.00 L421.57,76.10 L421.03,76.20 L420.56,76.30 L420.15,76.40 L419.80,76.50 L420.15,76.60 L420.57,76.70 L421.05,76.80 L421.61,76.90 L422.24,77.00 L422.94,77.10 L423.71,77.20 L424.55,77.30 L425.46,77.40 L426.45,77.50 L427.50,77.60 L428.62,77.70 L429.82,77.80 L431.08,77.90 L432.41,78.00 L433.81,78.10 L435.27,78.20 L436.79,78.30 L438.38,78.40 L440.03,78.50 L441.74,78.60 L443.50,78.70 L445.32,78.80 L447.19,78.90 L449.11,79.00 L451.07,79.10 L453.08,79.20 L455.14,79.30 L457.23,79.40 L459.35,79.50 L461.51,79.60 L463.70,79.70 L465.91,79.80 L468.15,79.90 L470.41,80.00 L472.68,80.10 L474.96,80.20 L477.25,80.30 L479.55,80.40 L481.85,80.50 L484.15,80.60 L486.44,80.70 L488.72,80.80 L490.98,80.90 L493.23,81.00 L495.46,81.10 L497.67,81.20 L499.85,81.30 L502.00,81.40 L504.11,81.50 L506.19,81.60 L508.22,81.70 L510.21,81.80 L512.16,81.90 L514.05,82.00 L515.90,82.10 L517.69,82.20 L519.42,82.30 L521.09,82.40 L522.70,82.50 L524.24,82.60 L525.72,82.70 L527.14,82.80 L528.48,82.90 L529.75,83.00 L530.95,83.10 L532.08,83.20 L533.13,83.30 L534.11,83.40 L535.01,83.50 L535.84,83.60 L536.59,83.70 L537.27,83.80 L537.86,83.90 L538.38,84.00 L538.83,84.10 L539.20,84.20 L538.83,84.30 L538.39,84.40 L537.87,84.50 L537.29,84.60 L536.63,84.70 L535.91,84.80 L535.11,84.90 L534.24,85.00 L533.31,85.10 L532.31,85.20 L531.25,85.30 L530.12,85.40 L528.93,85.50 L527.68,85.60 L526.38,85.70 L525.01,85.80 L523.59,85.90 L522.11,86.00 L520.58,86.10 L519.01,86.20 L517.38,86.30 L515.71,86.40 L513.99,86.50 L512.23,86.60 L510.43,86.70 L508.60,86.80 L506.72,86.90 L504.82,87.00 L502.88,87.10 L500.92,87.20 L498.93,87.30 L496.92,87.40 L494.88,87.50 L492.83,87.60 L490.76,87.70 L488.68,87.80 L486.59,87.90 L484.49,88.00 L482.38,88.10 L480.28,88.20 L478.17,88.30 L476.06,88.40 L473.95,88.50 L471.86,88.60 L469.77,88.70 L467.70,88.80 L465.64,88.90 L463.59,89.00 L461.57,89.10 L459.57,89.20 L457.59,89.30 L455.64,89.40 L453.72,89.50 L451.83,89.60 L449.98,89.70 L448.16,89.80 L446.38,89.90 L444.64,90.00 L442.94,90.10 L441.29,90.20 L439.68,90.30 L438.12,90.40 L436.62,90.50 L435.16,90.60 L433.76,90.70 L432.41,90.80 L431.12,90.90 L429.89,91.00 L428.72,91.10 L427.62,91.20 L426.57,91.30 L425.59,91.40 L424.67,91.50 L423.82,91.60 L423.04,91.70 L422.33,91.80 L421.68,91.90 L421.10,92.00 L420.60,92.10 L420.16,92.20 L419.80,92.30 L420.16,92.40 L420.60,92.50 L421.11,92.60 L421.69,92.70 L422.34,92.80 L423.06,92.90 L423.85,93.00 L424.71,93.10 L425.64,93.20 L426.64,93.30 L427.70,93.40 L428.83,93.50 L430.02,93.60 L431.28,93.70 L432.60,93.80 L433.98,93.90 L435.42,94.00 L436.91,94.10 L438.46,94.20 L440.07,94.30 L441.72,94.40 L443.43,94.50 L445.18,94.60 L446.98,94.70 L448.82,94.80 L450.70,94.90 L452.62,95.00 L454.58,95.10 L456.57,95.20 L458.59,95.30 L460.64,95.40 L462.71,95.50 L464.81,95.60 L466.93,95.70 L469.06,95.80 L471.21,95.90 L473.37,96.00 L475.54,96.10 L477.72,96.20 L479.90,96.30 L482.08,96.40 L484.26,96.50 L486.43,96.60 L488.60,96.70 L490.75,96.80 L492.89,96.90 L495.01,97.00 L497.11,97.10 L499.19,97.20 L501.25,97.30 L503.27,97.40 L505.27,97.50 L507.23,97.60 L509.15,97.70 L511.04,97.80 L512.88,97.90 L514.68,98.00 L516.44,98.10 L518.14,98.20 L519.80,98.30 L521.40,98.40 L522.95,98.50 L524.44,98.60 L525.87,98.70 L527.24,98.80 L528.54,98.90 L529.78,99.00 L530.96,99.10 L532.07,99.20 L533.11,99.30 L534.08,99.40 L534.98,99.50 L535.80,99.60 L536.56,99.70 L537.24,99.80 L537.84,99.90 L538.37,100.00 L538.82,100.10 L539.20,100.20 L538.82,100.30 L538.37,100.40 L537.84,100.50 L537.23,100.60 L536.54,100.70 L535.78,100.80 L534.94,100.90 L534.02,101.00 L533.03,101.10 L531.97,101.20 L530.83,101.30 L529.62,101.40 L528.34,101.50 L526.99,101.60 L525.57,101.70 L524.09,101.80 L522.54,101.90 L520.93,102.00 L519.27,102.10 L517.54,102.20 L515.76,102.30 L513.92,102.40 L512.03,102.50 L510.10,102.60 L508.12,102.70 L506.10,102.80 L504.04,102.90 L501.94,103.00 L499.80,103.10 L497.64,103.20 L495.45,103.30 L493.24,103.40 L491.00,103.50 L488.75,103.60 L486.48,103.70 L484.21,103.80 L481.92,103.90 L479.64,104.00 L477.35,104.10 L475.06,104.20 L472.78,104.30 L470.51,104.40 L468.26,104.50 L466.02,104.60 L463.80,104.70 L461.61,104.80 L459.44,104.90 L457.30,105.00 L455.19,105.10 L453.12,105.20 L451.09,105.30 L449.10,105.40 L447.16,105.50 L445.26,105.60 L443.42,105.70 L441.62,105.80 L439.89,105.90 L438.21,106.00 L436.59,106.10 L435.03,106.20 L433.54,106.30 L432.11,106.40 L430.75,106.50 L429.46,106.60 L428.24,106.70 L427.09,106.80 L426.02,106.90 L425.02,107.00 L424.10,107.10 L423.25,107.20 L422.48,107.30 L421.79,107.40 L421.17,107.50 L420.64,107.60 L420.18,107.70 L419.80,107.80 L420.18,107.90 L420.64,108.00 L421.17,108.10 L421.78,108.20 L422.47,108.30 L423.24,108.40 L424.08,108.50 L424.99,108.60 L425.98,108.70 L427.04,108.80 L428.17,108.90 L429.37,109.00 L430.64,109.10 L431.97,109.20 L433.38,109.30 L434.84,109.40 L436.36,109.50 L437.95,109.60 L439.59,109.70 L441.29,109.80 L443.04,109.90 L444.84,110.00 L446.68,110.10 L448.58,110.20 L450.51,110.30 L452.48,110.40 L454.50,110.50 L456.54,110.60 L458.62,110.70 L460.72,110.80 L462.86,110.90 L465.01,111.00 L467.18,111.10 L469.37,111.20 L471.57,111.30 L473.78,111.40 L476.00,111.50 L478.22,111.60 L480.44,111.70 L482.66,111.80 L484.88,111.90 L487.08,112.00 L489.28,112.10 L491.46,112.20 L493.62,112.30 L495.76,112.40 L497.87,112.50 L499.96,112.60 L502.02,112.70 L504.05,112.80 L506.05,112.90 L508.00,113.00 L509.92,113.10 L511.79,113.20 L513.62,113.30 L515.40,113.40 L517.13,113.50 L518.81,113.60 L520.44,113.70 L522.01,113.80 L523.52,113.90 L524.97,114.00 L526.37,114.10 L527.70,114.20 L528.96,114.30 L530.17,114.40 L531.30,114.50 L532.37,114.60 L533.37,114.70 L534.30,114.80 L535.16,114.90 L535.95,115.00 L536.67,115.10 L537.32,115.20 L537.90,115.30 L538.40,115.40 L538.84,115.50 L539.20,115.60 L538.84,115.70 L538.41,115.80 L537.91,115.90 L537.34,116.00 L536.71,116.10 L536.01,116.20 L535.24,116.30 L534.41,116.40 L533.52,116.50 L532.56,116.60 L531.55,116.70 L530.47,116.80 L529.34,116.90 L528.15,117.00 L526.91,117.10 L525.61,117.20 L524.27,117.30 L522.87,117.40 L521.42,117.50 L519.93,117.60 L518.39,117.70 L516.81,117.80 L515.18,117.90 L513.52,118.00 L511.82,118.10 L510.08,118.20 L508.31,118.30 L506.51,118.40 L504.68,118.50 L502.82,118.60 L500.93,118.70 L499.02,118.80 L497.09,118.90 L495.13,119.00 L493.17,119.10 L491.18,119.20 L489.18,119.30 L487.17,119.40 L485.16,119.50 L483.13,119.60 L481.10,119.70 L479.07,119.80 L477.04,119.90 L475.01,120.00 L472.98,120.10 L470.96,120.20 L468.95,120.30 L466.95,120.40 L464.96,120.50 L462.99,120.60 L461.03,120.70 L459.10,120.80 L457.18,120.90 L455.29,121.00 L453.43,121.10 L451.59,121.20 L449.79,121.30 L448.01,121.40 L446.28,121.50 L444.57,121.60 L442.91,121.70 L441.29,121.80 L439.71,121.90 L438.17,122.00 L436.68,122.10 L435.24,122.20 L433.85,122.30 L432.52,122.40 L431.23,122.50 L430.01,122.60 L428.83,122.70 L427.72,122.80 L426.67,122.90 L425.68,123.00 L424.76,123.10 L423.90,123.20 L423.10,123.30 L422.38,123.40 L421.72,123.50 L421.13,123.60 L420.62,123.70 L420.17,123.80 L419.80,123.90 L420.17,124.00 L420.62,124.10 L421.15,124.20 L421.75,124.30 L422.43,124.40 L423.19,124.50 L424.03,124.60 L424.94,124.70 L425.93,124.80 L427.00,124.90 L428.14,125.00 L429.36,125.10 L430.65,125.20 L432.01,125.30 L433.44,125.40 L434.94,125.50 L436.51,125.60 L438.15,125.70 L439.85,125.80 L441.61,125.90 L443.43,126.00 L445.31,126.10 L447.24,126.20 L449.22,126.30 L451.25,126.40 L453.33,126.50 L455.45,126.60 L457.62,126.70 L459.81,126.80 L462.04,126.90 L464.30,127.00 L466.59,127.10 L468.90,127.20 L471.23,127.30 L473.57,127.40 L475.92,127.50 L478.29,127.60 L480.65,127.70 L483.02,127.80 L485.38,127.90 L487.73,128.00 L490.07,128.10 L492.40,128.20 L494.70,128.30 L496.99,128.40 L499.24,128.50 L501.47,128.60 L503.66,128.70 L505.81,128.80 L507.92,128.90 L509.99,129.00 L512.01,129.10 L513.98,129.20 L515.89,129.30 L517.75,129.40 L519.54,129.50 L521.27,129.60 L522.94,129.70 L524.54,129.80 L526.07,129.90 L527.52,130.00 L528.91,130.10 L530.21,130.20 L531.44,130.30 L532.59,130.40 L533.66,130.50 L534.64,130.60 L535.55,130.70 L536.37,130.80 L537.10,130.90 L537.75,131.00 L538.32,131.10 L538.80,131.20 L539.20,131.30 L538.80,131.40 L538.32,131.50 L537.76,131.60 L537.11,131.70 L536.38,131.80 L535.57,131.90 L534.68,132.00 L533.71,132.10 L532.65,132.20 L531.53,132.30 L530.32,132.40 L529.04,132.50 L527.69,132.60 L526.27,132.70 L524.77,132.80 L523.21,132.90 L521.59,133.00 L519.90,133.10 L518.15,133.20 L516.35,133.30 L514.49,133.40 L512.58,133.50 L510.61,133.60 L508.60,133.70 L506.55,133.80 L504.45,133.90 L502.32,134.00 L500.16,134.10 L497.96,134.20 L495.73,134.30 L493.48,134.40 L491.21,134.50 L488.92,134.60 L486.61,134.70 L484.30,134.80 L481.97,134.90 L479.65,135.00 L477.32,135.10 L475.00,135.20 L472.68,135.30 L470.37,135.40 L468.08,135.50 L465.80,135.60 L463.54,135.70 L461.31,135.80 L459.10,135.90 L456.93,136.00 L454.79,136.10 L452.69,136.20 L450.62,136.30 L448.60,136.40 L446.63,136.50 L444.71,136.60 L442.83,136.70 L441.02,136.80 L439.26,136.90 L437.56,137.00 L435.92,137.10 L434.35,137.20 L432.85,137.30 L431.41,137.40 L430.05,137.50 L428.76,137.60 L427.54,137.70 L426.40,137.80 L425.34,137.90 L424.36,138.00 L423.46,138.10 L422.64,138.20 L421.91,138.30 L421.25,138.40 L420.68,138.50 L420.20,138.60 L419.80,138.70 L420.20,138.80 L420.69,138.90 L421.26,139.00 L421.91,139.10 L422.65,139.20 L423.47,139.30 L424.37,139.40 L425.36,139.50 L426.43,139.60 L427.57,139.70 L428.80,139.80 L430.10,139.90 L431.47,140.00 L432.92,140.10 L434.44,140.20 L436.03,140.30 L437.68,140.40 L439.40,140.50 L441.18,140.60 L443.02,140.70 L444.92,140.80 L446.87,140.90 L448.87,141.00 L450.91,141.10 L453.01,141.20 L455.14,141.30 L457.31,141.40 L459.52,141.50 L461.76,141.60 L464.03,141.70 L466.32,141.80 L468.63,141.90 L470.96,142.00 L473.31,142.10 L475.66,142.20 L478.02,142.30 L480.39,142.40 L482.75,142.50 L485.11,142.60 L487.46,142.70 L489.79,142.80 L492.12,142.90 L494.42,143.00 L496.70,143.10 L498.95,143.20 L501.17,143.30 L503.36,143.40 L505.51,143.50 L507.63,143.60 L509.69,143.70 L511.72,143.80 L513.69,143.90 L515.61,144.00 L517.47,144.10 L519.27,144.20 L521.01,144.30 L522.69,144.40 L524.30,144.50 L525.85,144.60 L527.32,144.70 L528.72,144.80 L530.04,144.90 L531.28,145.00 L532.45,145.10 L533.54,145.20 L534.54,145.30 L535.46,145.40 L536.30,145.50 L537.05,145.60 L537.72,145.70 L538.30,145.80 L538.79,145.90 L539.20,146.00 L538.79,146.10 L538.30,146.20 L537.72,146.30 L537.05,146.40 L536.29,146.50 L535.44,146.60 L534.51,146.70 L533.49,146.80 L532.39,146.90 L531.20,147.00 L529.93,147.10 L528.59,147.20 L527.16,147.30 L525.66,147.40 L524.08,147.50 L522.43,147.60 L520.71,147.70 L518.92,147.80 L517.07,147.90 L515.15,148.00 L513.18,148.10 L511.15,148.20 L509.07,148.30 L506.94,148.40 L504.77,148.50 L502.55,148.60 L500.29,148.70 L498.01,148.80 L495.69,148.90 L493.34,149.00 L490.97,149.10 L488.59,149.20 L486.18,149.30 L483.77,149.40 L481.35,149.50 L478.93,149.60 L476.51,149.70 L474.10,149.80 L471.70,149.90 L469.31,150.00 L466.94,150.10 L464.59,150.20 L462.26,150.30 L459.97,150.40 L457.71,150.50 L455.49,150.60 L453.31,150.70 L451.17,150.80 L449.08,150.90 L447.04,151.00 L445.05,151.10 L443.12,151.20 L441.25,151.30 L439.45,151.40 L437.70,151.50 L436.03,151.60 L434.43,151.70 L432.89,151.80 L431.44,151.90 L430.05,152.00 L428.75,152.10 L427.52,152.20 L426.38,152.30 L425.31,152.40 L424.33,152.50 L423.43,152.60 L422.61,152.70 L421.88,152.80 L421.24,152.90 L420.67,153.00 L420.19,153.10 L419.80,153.20 L420.19,153.30 L420.67,153.40 L421.22,153.50 L421.85,153.60 L422.57,153.70 L423.35,153.80 L424.22,153.90 L425.15,154.00 L426.16,154.10 L427.24,154.20 L428.39,154.30 L429.60,154.40 L430.88,154.50 L432.22,154.60 L433.63,154.70 L435.09,154.80 L436.62,154.90 L438.19,155.00 L439.82,155.10 L441.51,155.20 L443.24,155.30 L445.01,155.40 L446.83,155.50 L448.70,155.60 L450.60,155.70 L452.54,155.80 L454.51,155.90 L456.52,156.00 L458.56,156.10 L460.62,156.20 L462.70,156.30 L464.81,156.40 L466.94,156.50 L469.08,156.60 L471.24,156.70 L473.41,156.80 L475.59,156.90 L477.77,157.00 L479.96,157.10 L482.14,157.20 L484.33,157.30 L486.51,157.40 L488.68,157.50 L490.84,157.60 L492.99,157.70 L495.12,157.80 L497.23,157.90 L499.32,158.00 L501.39,158.10 L503.43,158.20 L505.44,158.30 L507.42,158.40 L509.36,158.50 L511.27,158.60 L513.13,158.70 L514.96,158.80 L516.73,158.90 L518.46,159.00 L520.14,159.10 L521.77,159.20 L523.34,159.30 L524.85,159.40 L526.31,159.50 L527.70,159.60 L529.02,159.70 L530.28,159.80 L531.48,159.90 L532.60,160.00 L533.64,160.10 L534.62,160.20 L535.51,160.30 L536.33,160.40 L537.07,160.50 L537.73,160.60 L538.30,160.70 L538.79,160.80 L539.20,160.90 L538.79,161.00 L538.29,161.10 L537.70,161.20 L537.02,161.30 L536.24,161.40 L535.37,161.50 L534.41,161.60 L533.35,161.70 L532.20,161.80 L530.95,161.90 L529.62,162.00 L528.19,162.10 L526.68,162.20 L525.07,162.30 L523.39,162.40 L521.62,162.50 L519.77,162.60 L517.84,162.70 L515.84,162.80 L513.76,162.90 L511.62,163.00 L509.42,163.10 L507.16,163.20 L504.84,163.30 L502.47,163.40 L500.05,163.50 L497.59,163.60 L495.10,163.70 L492.57,163.80 L490.02,163.90 L487.44,164.00 L484.85,164.10 L482.25,164.20 L479.64,164.30 L477.03,164.40 L474.42,164.50 L471.82,164.60 L469.25,164.70 L466.69,164.80 L464.15,164.90 L461.65,165.00 L459.19,165.10 L456.76,165.20 L454.39,165.30 L452.06,165.40 L449.78,165.50 L447.57,165.60 L445.42,165.70 L443.34,165.80 L441.32,165.90 L439.38,166.00 L437.52,166.10 L435.74,166.20 L434.04,166.30 L432.43,166.40 L430.90,166.50 L429.46,166.60 L428.12,166.70 L426.86,166.80 L425.70,166.90 L424.63,167.00 L423.66,167.10 L422.78,167.20 L422.00,167.30 L421.31,167.40 L420.71,167.50 L420.21,167.60 L419.80,167.70 L420.21,167.80 L420.70,167.90 L421.28,168.00 L421.95,168.10 L422.69,168.20 L423.51,168.30 L424.42,168.40 L425.40,168.50 L426.45,168.60 L427.58,168.70 L428.78,168.80 L430.04,168.90 L431.38,169.00 L432.78,169.10 L434.24,169.20 L435.76,169.30 L437.33,169.40 L438.97,169.50 L440.65,169.60 L442.39,169.70 L444.17,169.80 L446.00,169.90 L447.87,170.00 L449.79,170.10 L451.74,170.20 L453.72,170.30 L455.74,170.40 L457.79,170.50 L459.86,170.60 L461.96,170.70 L464.09,170.80 L466.23,170.90 L468.39,171.00 L470.56,171.10 L472.74,171.20 L474.93,171.30 L477.13,171.40 L479.33,171.50 L481.54,171.60 L483.73,171.70 L485.93,171.80 L488.12,171.90 L490.29,172.00 L492.46,172.10 L494.60,172.20 L496.73,172.30 L498.84,172.40 L500.92,172.50 L502.98,172.60 L505.01,172.70 L507.00,172.80 L508.96,172.90 L510.89,173.00 L512.77,173.10 L514.61,173.20 L516.41,173.30 L518.16,173.40 L519.86,173.50 L521.50,173.60 L523.09,173.70 L524.63,173.80 L526.10,173.90 L527.51,174.00 L528.86,174.10 L530.13,174.20 L531.34,174.30 L532.48,174.40 L533.55,174.50 L534.54,174.60 L535.45,174.70 L536.28,174.80 L537.03,174.90 L537.70,175.00 L538.29,175.10 L538.79,175.20 L539.20,175.30 L538.79,175.40 L538.28,175.50 L537.68,175.60 L536.98,175.70 L536.19,175.80 L535.30,175.90 L534.31,176.00 L533.23,176.10 L532.06,176.20 L530.79,176.30 L529.42,176.40 L527.97,176.50 L526.42,176.60 L524.79,176.70 L523.07,176.80 L521.26,176.90 L519.38,177.00 L517.41,177.10 L515.37,177.20 L513.26,177.30 L511.08,177.40 L508.84,177.50 L506.53,177.60 L504.17,177.70 L501.76,177.80 L499.31,177.90 L496.81,178.00 L494.28,178.10 L491.71,178.20 L489.12,178.30 L486.51,178.40 L483.88,178.50 L481.24,178.60 L478.60,178.70 L475.96,178.80 L473.32,178.90 L470.70,179.00 L468.10,179.10 L465.52,179.20 L462.96,179.30 L460.44,179.40 L457.96,179.50 L455.53,179.60 L453.14,179.70 L450.81,179.80 L448.53,179.90 L446.32,180.00 L444.18,180.10 L442.10,180.20 L440.10,180.30 L438.18,180.40 L436.33,180.50 L434.58,180.60 L432.91,180.70 L431.32,180.80 L429.83,180.90 L428.44,181.00 L427.13,181.10 L425.93,181.20 L424.82,181.30 L423.80,181.40 L422.89,181.50 L422.08,181.60 L421.36,181.70 L420.74,181.80 L420.22,181.90 L419.80,182.00 L420.22,182.10 L420.74,182.20 L421.34,182.30 L422.04,182.40 L422.82,182.50 L423.69,182.60 L424.65,182.70 L425.69,182.80 L426.82,182.90 L428.03,183.00 L429.31,183.10 L430.67,183.20 L432.11,183.30 L433.61,183.40 L435.19,183.50 L436.83,183.60 L438.54,183.70 L440.31,183.80 L442.14,183.90 L444.02,184.00 L445.96,184.10 L447.94,184.20 L449.97,184.30 L452.05,184.40 L454.16,184.50 L456.32,184.60 L458.50,184.70 L460.72,184.80 L462.96,184.90 L465.23,185.00 L467.51,185.10 L469.81,185.20 L472.13,185.30 L474.46,185.40 L476.79,185.50 L479.12,185.60 L481.46,185.70 L483.79,185.80 L486.11,185.90 L488.42,186.00 L490.72,186.10 L492.99,186.20 L495.25,186.30 L497.49,186.40 L499.69,186.50 L501.87,186.60 L504.01,186.70 L506.12,186.80 L508.18,186.90 L510.20,187.00 L512.18,187.10 L514.11,187.20 L515.98,187.30 L517.80,187.40 L519.57,187.50 L521.27,187.60 L522.92,187.70 L524.50,187.80 L526.01,187.90 L527.45,188.00 L528.83,188.10 L530.13,188.20 L531.36,188.30 L532.51,188.40 L533.58,188.50 L534.57,188.60 L535.48,188.70 L536.31,188.80 L537.06,188.90 L537.72,189.00 L538.30,189.10 L538.79,189.20 L539.20,189.30 L538.79,189.40 L538.30,189.50 L537.72,189.60 L537.06,189.70 L536.30,189.80 L535.47,189.90 L534.55,190.00 L533.54,190.10 L532.46,190.20 L531.29,190.30 L530.05,190.40 L528.73,190.50 L527.33,190.60 L525.86,190.70 L524.32,190.80 L522.71,190.90 L521.04,191.00 L519.29,191.10 L517.49,191.20 L515.63,191.30 L513.71,191.40 L511.74,191.50 L509.71,191.60 L507.64,191.70 L505.53,191.80 L503.37,191.90 L501.17,192.00 L498.94,192.10 L496.68,192.20 L494.39,192.30 L492.08,192.40 L489.74,192.50 L487.39,192.60 L485.03,192.70 L482.65,192.80 L480.27,192.90 L477.89,193.00 L475.50,193.10 L473.13,193.20 L470.76,193.30 L468.40,193.40 L466.06,193.50 L463.74,193.60 L461.45,193.70 L459.18,193.80 L456.94,193.90 L454.74,194.00 L452.57,194.10 L450.45,194.20 L448.37,194.30 L446.34,194.40 L444.36,194.50 L442.44,194.60 L440.58,194.70 L438.77,194.80 L437.03,194.90 L435.36,195.00 L433.76,195.10 L432.22,195.20 L430.77,195.30 L429.39,195.40 L428.09,195.50 L426.86,195.60 L425.73,195.70 L424.67,195.80 L423.71,195.90 L422.83,196.00 L422.04,196.10 L421.34,196.20 L420.74,196.30 L420.22,196.40 L419.80,196.50 L420.22,196.60 L420.74,196.70 L421.35,196.80 L422.06,196.90 L422.86,197.00 L423.76,197.10 L424.74,197.20 L425.82,197.30 L427.00,197.40 L428.26,197.50 L429.61,197.60 L431.04,197.70 L432.56,197.80 L434.17,197.90 L435.85,198.00 L437.61,198.10 L439.45,198.20 L441.36,198.30 L443.33,198.40 L445.37,198.50 L447.48,198.60 L449.64,198.70 L451.86,198.80 L454.13,198.90 L456.45,199.00 L458.81,199.10 L461.21,199.20 L463.64,199.30 L466.11,199.40 L468.60,199.50 L471.11,199.60 L473.64,199.70 L476.18,199.80 L478.73,199.90 L481.28,200.00 L483.83,200.10 L486.37,200.20 L488.90,200.30 L491.42,200.40 L493.91,200.50 L496.38,200.60 L498.82,200.70 L501.22,200.80 L503.59,200.90 L505.91,201.00 L508.18,201.10 L510.40,201.20 L512.57,201.30 L514.67,201.40 L516.71,201.50 L518.69,201.60 L520.59,201.70 L522.42,201.80 L524.17,201.90 L525.84,202.00 L527.42,202.10 L528.92,202.20 L530.33,202.30 L531.66,202.40 L532.88,202.50 L534.02,202.60 L535.06,202.70 L536.00,202.80 L536.84,202.90 L537.58,203.00 L538.22,203.10 L538.76,203.20 L539.20,203.30 L538.76,203.40 L538.22,203.50 L537.57,203.60 L536.83,203.70 L535.98,203.80 L535.03,203.90 L533.98,204.00 L532.83,204.10 L531.58,204.20 L530.24,204.30 L528.80,204.40 L527.28,204.50 L525.66,204.60 L523.95,204.70 L522.16,204.80 L520.29,204.90 L518.34,205.00 L516.31,205.10 L514.22,205.20 L512.06,205.30 L509.83,205.40 L507.55,205.50 L505.21,205.60 L502.82,205.70 L500.39,205.80 L497.92,205.90 L495.41,206.00 L492.87,206.10 L490.31,206.20 L487.73,206.30 L485.13,206.40 L482.52,206.50 L479.91,206.60 L477.30,206.70 L474.69,206.80 L472.10,206.90 L469.52,207.00 L466.97,207.10 L464.44,207.20 L461.94,207.30 L459.47,207.40 L457.05,207.50 L454.67,207.60 L452.34,207.70 L450.07,207.80 L447.85,207.90 L445.70,208.00 L443.61,208.10 L441.59,208.20 L439.64,208.30 L437.77,208.40 L435.98,208.50 L434.27,208.60 L432.64,208.70 L431.10,208.80 L429.64,208.90 L428.28,209.00 L427.00,209.10 L425.82,209.20 L424.74,209.30 L423.75,209.40 L422.85,209.50 L422.05,209.60 L421.34,209.70 L420.73,209.80 L420.22,209.90 L419.80,210.00 L420.22,210.10 L420.73,210.20 L421.32,210.30 L422.00,210.40 L422.77,210.50 L423.62,210.60 L424.56,210.70 L425.57,210.80 L426.66,210.90 L427.83,211.00 L429.07,211.10 L430.38,211.20 L431.76,211.30 L433.20,211.40 L434.72,211.50 L436.29,211.60 L437.92,211.70 L439.61,211.80 L441.36,211.90 L443.15,212.00 L445.00,212.10 L446.89,212.20 L448.83,212.30 L450.80,212.40 L452.82,212.50 L454.87,212.60 L456.95,212.70 L459.07,212.80 L461.21,212.90 L463.38,213.00 L465.56,213.10 L467.77,213.20 L469.99,213.30 L472.23,213.40 L474.47,213.50 L476.73,213.60 L478.99,213.70 L481.25,213.80 L483.50,213.90 L485.76,214.00 L488.00,214.10 L490.24,214.20 L492.46,214.30 L494.67,214.40 L496.86,214.50 L499.02,214.60 L501.16,214.70 L503.27,214.80 L505.36,214.90 L507.40,215.00 L509.42,215.10 L511.39,215.20 L513.32,215.30 L515.20,215.40 L517.04,215.50 L518.82,215.60 L520.55,215.70 L522.22,215.80 L523.84,215.90 L525.39,216.00 L526.88,216.10 L528.30,216.20 L529.65,216.30 L530.93,216.40 L532.13,216.50 L533.25,216.60 L534.30,216.70 L535.26,216.80 L536.14,216.90 L536.93,217.00 L537.64,217.10 L538.25,217.20 L538.77,217.30 L539.20,217.40 L538.77,217.50 L538.24,217.60 L537.60,217.70 L536.86,217.80 L536.02,217.90 L535.07,218.00 L534.02,218.10 L532.86,218.20 L531.59,218.30 L530.23,218.40 L528.75,218.50 L527.18,218.60 L525.51,218.70 L523.74,218.80 L521.88,218.90 L519.93,219.00 L517.88,219.10 L515.76,219.20 L513.55,219.30 L511.26,219.40 L508.91,219.50 L506.48,219.60 L504.00,219.70 L501.46,219.80 L498.86,219.90 L496.22,220.00 L493.55,220.10 L490.84,220.20 L488.10,220.30 L485.34,220.40 L482.56,220.50 L479.78,220.60 L477.00,220.70 L474.22,220.80 L471.46,220.90 L468.71,221.00 L465.99,221.10 L463.30,221.20 L460.65,221.30 L458.04,221.40 L455.48,221.50 L452.97,221.60 L450.53,221.70 L448.15,221.80 L445.84,221.90 L443.61,222.00 L441.46,222.10 L439.39,222.20 L437.41,222.30 L435.52,222.40 L433.72,222.50 L432.03,222.60 L430.43,222.70 L428.94,222.80 L427.54,222.90 L426.26,223.00 L425.08,223.10 L424.00,223.20 L423.04,223.30 L422.18,223.40 L421.43,223.50 L420.78,223.60 L420.24,223.70 L419.80,223.80 L420.24,223.90 L420.77,224.00 L421.40,224.10 L422.12,224.20 L422.94,224.30 L423.84,224.40 L424.84,224.50 L425.92,224.60 L427.09,224.70 L428.34,224.80 L429.67,224.90 L431.08,225.00 L432.57,225.10 L434.13,225.20 L435.75,225.30 L437.45,225.40 L439.21,225.50 L441.02,225.60 L442.90,225.70 L444.83,225.80 L446.82,225.90 L448.85,226.00 L450.93,226.10 L453.05,226.20 L455.20,226.30 L457.40,226.40 L459.62,226.50 L461.87,226.60 L464.15,226.70 L466.45,226.80 L468.76,226.90 L471.09,227.00 L473.44,227.10 L475.78,227.20 L478.14,227.30 L480.49,227.40 L482.84,227.50 L485.18,227.60 L487.52,227.70 L489.84,227.80 L492.14,227.90 L494.42,228.00 L496.68,228.10 L498.92,228.20 L501.12,228.30 L503.29,228.40 L505.42,228.50 L507.52,228.60 L509.57,228.70 L511.58,228.80 L513.54,228.90 L515.45,229.00 L517.30,229.10 L519.10,229.20 L520.84,229.30 L522.52,229.40 L524.13,229.50 L525.68,229.60 L527.15,229.70 L528.56,229.80 L529.89,229.90 L531.15,230.00 L532.33,230.10 L533.43,230.20 L534.45,230.30 L535.39,230.40 L536.24,230.50 L537.01,230.60 L537.69,230.70 L538.28,230.80 L538.78,230.90 L539.20,231.00 L538.78,231.10 L538.28,231.20 L537.68,231.30 L536.99,231.40 L536.21,231.50 L535.34,231.60 L534.38,231.70 L533.33,231.80 L532.20,231.90 L530.98,232.00 L529.68,232.10 L528.29,232.20 L526.82,232.30 L525.28,232.40 L523.66,232.50 L521.97,232.60 L520.20,232.70 L518.37,232.80 L516.47,232.90 L514.51,233.00 L512.49,233.10 L510.41,233.20 L508.28,233.30 L506.10,233.40 L503.88,233.50 L501.61,233.60 L499.30,233.70 L496.96,233.80 L494.59,233.90 L492.20,234.00 L489.78,234.10 L487.34,234.20 L484.89,234.30 L482.43,234.40 L479.96,234.50 L477.49,234.60 L475.02,234.70 L472.56,234.80 L470.11,234.90 L467.68,235.00 L465.27,235.10 L462.88,235.20 L460.52,235.30 L458.19,235.40 L455.89,235.50 L453.64,235.60 L451.43,235.70 L449.27,235.80 L447.16,235.90 L445.10,236.00 L443.10,236.10 L441.17,236.20 L439.30,236.30 L437.49,236.40 L435.76,236.50 L434.10,236.60 L432.52,236.70 L431.02,236.80 L429.59,236.90 L428.25,237.00 L427.00,237.10 L425.83,237.20 L424.76,237.30 L423.77,237.40 L422.87,237.50 L422.07,237.60 L421.36,237.70 L420.75,237.80 L420.23,237.90 L419.80,238.00 L420.23,238.10 L420.75,238.20 L421.36,238.30 L422.07,238.40 L422.88,238.50 L423.78,238.60 L424.77,238.70 L425.86,238.80 L427.03,238.90 L428.29,239.00 L429.65,239.10 L431.08,239.20 L432.60,239.30 L434.20,239.40 L435.88,239.50 L437.63,239.60 L439.46,239.70 L441.35,239.80 L443.31,239.90 L445.34,240.00 L447.43,240.10 L449.57,240.20 L451.77,240.30 L454.01,240.40 L456.30,240.50 L458.63,240.60 L461.00,240.70 L463.40,240.80 L465.83,240.90 L468.29,241.00 L470.76,241.10 L473.25,241.20 L475.75,241.30 L478.26,241.40 L480.77,241.50 L483.28,241.60 L485.78,241.70 L488.27,241.80 L490.74,241.90 L493.20,242.00 L495.63,242.10 L498.03,242.20 L500.40,242.30 L502.73,242.40 L505.02,242.50 L507.26,242.60 L509.46,242.70 L511.60,242.80 L513.68,242.90 L515.71,243.00 L517.67,243.10 L519.56,243.20 L521.39,243.30 L523.14,243.40 L524.82,243.50 L526.41,243.60 L527.93,243.70 L529.36,243.80 L530.71,243.90 L531.98,244.00 L533.15,244.10 L534.23,244.20 L535.22,244.30 L536.12,244.40 L536.93,244.50 L537.64,244.60 L538.25,244.70 L538.77,244.80 L539.20,244.90 L538.77,245.00 L538.26,245.10 L537.64,245.20 L536.93,245.30 L536.13,245.40 L535.24,245.50 L534.26,245.60 L533.19,245.70 L532.03,245.80 L530.78,245.90 L529.45,246.00 L528.04,246.10 L526.55,246.20 L524.97,246.30 L523.33,246.40 L521.61,246.50 L519.82,246.60 L517.97,246.70 L516.05,246.80 L514.07,246.90 L512.03,247.00 L509.94,247.10 L507.79,247.20 L505.60,247.30 L503.37,247.40 L501.10,247.50 L498.79,247.60 L496.45,247.70 L494.08,247.80 L491.69,247.90 L489.27,248.00 L486.84,248.10" fill="none" stroke="#000" stroke-width="1.15" stroke-linejoin="round"/>
<text class="c" x="87.8" y="316.2" text-anchor="middle">(<tspan>a</tspan>)</text>
<text class="c" x="278.6" y="316.2" text-anchor="middle">(<tspan>b</tspan>)</text>
<text class="c" x="470.5" y="316.2" text-anchor="middle">(<tspan>c</tspan>)</text>
</svg>
</body></html>
